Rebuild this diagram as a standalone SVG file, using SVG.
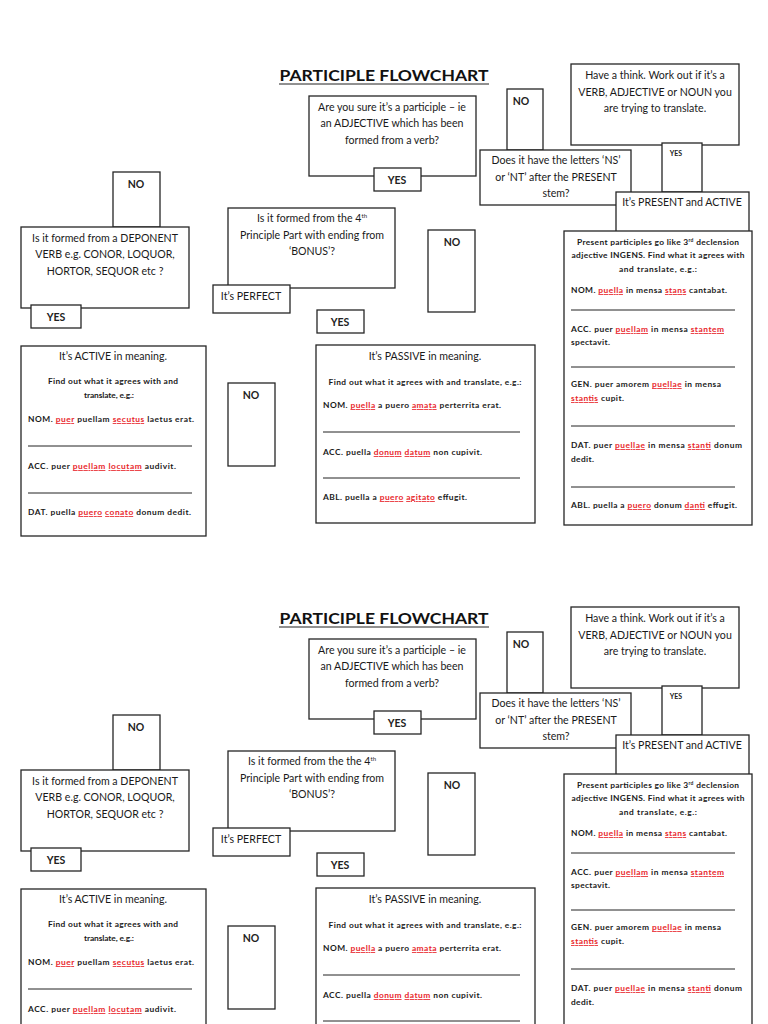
<svg xmlns="http://www.w3.org/2000/svg" width="768" height="1024" viewBox="0 0 768 1024">
<style>
.bx{fill:#fff;stroke:#262626;stroke-width:1.3}
text{font-family:Lato,"Liberation Sans",sans-serif;fill:#1a1a1a}
.m{font-size:10.6px;text-anchor:middle}
.yn{font-size:10.5px;text-anchor:middle;font-weight:bold;fill:#222}
.ys{font-size:7px;text-anchor:middle;font-weight:bold;fill:#222}
.s{font-size:8.4px;font-weight:bold}
.c{text-anchor:middle}
.r{fill:#e8262b;text-decoration:underline}
.ln{stroke:#222;stroke-width:1}
.ttl{font-size:16px;font-weight:bold;text-anchor:middle;fill:#111}
</style>
<rect width="768" height="1024" fill="#fff"/>
<g id="connectors"></g>

<g id="chart-1">
  <g id="title-1">
    <text class="ttl" x="384" y="81" textLength="209" lengthAdjust="spacingAndGlyphs">PARTICIPLE FLOWCHART</text>
    <line class="ln" x1="279" y1="84" x2="489" y2="84" stroke-width="1.3"/>
  </g>
  <g id="sure-1">
    <rect class="bx" x="309" y="96" width="167" height="80"/>
    <text class="m" x="392" y="111">Are you sure it’s a participle – ie</text>
    <text class="m" x="392" y="127">an ADJECTIVE which has been</text>
    <text class="m" x="392" y="144">formed from a verb?</text>
  </g>
  <g id="yes-sure-1">
    <rect class="bx" x="374" y="168" width="47" height="23"/>
    <text class="yn" x="397" y="184">YES</text>
  </g>
  <g id="no-top-1">
    <rect class="bx" x="507" y="89" width="36" height="61"/>
    <text class="yn" x="521" y="105">NO</text>
  </g>
  <g id="does-1">
    <rect class="bx" x="480" y="150" width="151" height="55"/>
    <text class="m" x="556" y="164">Does it have the letters ‘NS’</text>
    <text class="m" x="556" y="181">or ‘NT’ after the PRESENT</text>
    <text class="m" x="556" y="197">stem?</text>
  </g>
  <g id="think-1">
    <rect class="bx" x="571" y="64" width="168" height="81"/>
    <text class="m" x="655" y="79">Have a think. Work out if it’s a</text>
    <text class="m" x="655" y="96">VERB, ADJECTIVE or NOUN you</text>
    <text class="m" x="655" y="112">are trying to translate.</text>
  </g>
  <g id="yes-small-1">
    <rect class="bx" x="662" y="143" width="40" height="49"/>
    <text class="ys" x="676" y="156">YES</text>
  </g>
  <g id="present-1">
    <rect class="bx" x="616" y="192" width="133" height="40"/>
    <text class="m" x="682" y="206">It’s PRESENT and ACTIVE</text>
  </g>
  <g id="pp-1">
    <rect class="bx" x="564" y="231" width="188" height="294"/>
    <text class="s c" x="658" y="245" textLength="162">Present participles go like 3<tspan dy="-3" font-size="5">rd</tspan><tspan dy="3"> declension</tspan></text>
    <text class="s c" x="658" y="258" textLength="173">adjective INGENS. Find what it agrees with</text>
    <text class="s c" x="658" y="272" textLength="78">and translate, e.g.:</text>
    <text class="s" x="571" y="293" textLength="156">NOM. <tspan class="r">puella</tspan> in mensa <tspan class="r">stans</tspan> cantabat.</text>
    <line class="ln" x1="571" y1="310" x2="735" y2="310"/>
    <text class="s" x="571" y="332" textLength="153">ACC. puer <tspan class="r">puellam</tspan> in mensa <tspan class="r">stantem</tspan></text>
    <text class="s" x="571" y="345" textLength="39">spectavit.</text>
    <line class="ln" x1="571" y1="367" x2="735" y2="367"/>
    <text class="s" x="571" y="387" textLength="150">GEN. puer amorem <tspan class="r">puellae</tspan> in mensa</text>
    <text class="s" x="571" y="401" textLength="53"><tspan class="r">stantis</tspan> cupit.</text>
    <line class="ln" x1="571" y1="426" x2="735" y2="426"/>
    <text class="s" x="571" y="448" textLength="171">DAT. puer <tspan class="r">puellae</tspan> in mensa <tspan class="r">stanti</tspan> donum</text>
    <text class="s" x="571" y="462" textLength="23">dedit.</text>
    <line class="ln" x1="571" y1="487" x2="735" y2="487"/>
    <text class="s" x="571" y="508" textLength="166">ABL. puella a <tspan class="r">puero</tspan> donum <tspan class="r">danti</tspan> effugit.</text>
  </g>
  <g id="no-left-1">
    <rect class="bx" x="113" y="172" width="47" height="55"/>
    <text class="yn" x="136" y="188">NO</text>
  </g>
  <g id="deponent-1">
    <rect class="bx" x="21" y="227" width="168" height="81"/>
    <text class="m" x="105" y="242">Is it formed from a DEPONENT</text>
    <text class="m" x="105" y="258">VERB e.g.  CONOR, LOQUOR,</text>
    <text class="m" x="105" y="275">HORTOR, SEQUOR etc ?</text>
  </g>
  <g id="yes-left-1">
    <rect class="bx" x="31" y="305" width="50" height="23"/>
    <text class="yn" x="56" y="321">YES</text>
  </g>
  <g id="fourth-1">
    <rect class="bx" x="228" y="208" width="167" height="80"/>
    <text class="m" x="312" y="222">Is it formed from the 4<tspan dy="-4" font-size="6">th</tspan></text>
    <text class="m" x="312" y="239">Principle Part with ending from</text>
    <text class="m" x="312" y="255">‘BONUS’?</text>
  </g>
  <g id="perfect-1">
    <rect class="bx" x="213" y="285" width="77" height="28"/>
    <text class="m" x="251" y="300">It’s PERFECT</text>
  </g>
  <g id="yes-mid-1">
    <rect class="bx" x="317" y="310" width="47" height="23"/>
    <text class="yn" x="340" y="326">YES</text>
  </g>
  <g id="no-mid-1">
    <rect class="bx" x="428" y="230" width="47" height="82"/>
    <text class="yn" x="452" y="246">NO</text>
  </g>
  <g id="active-1">
    <rect class="bx" x="21" y="346" width="185" height="190"/>
    <text class="m" x="113" y="360">It’s ACTIVE in meaning.</text>
    <text class="s c" x="113" y="384" textLength="130">Find out what it agrees with and</text>
    <text class="s c" x="109" y="398" textLength="50">translate, e.g.:</text>
    <text class="s" x="28" y="422" textLength="166">NOM.  <tspan class="r">puer</tspan> puellam <tspan class="r">secutus</tspan> laetus erat.</text>
    <line class="ln" x1="28" y1="446" x2="192" y2="446"/>
    <text class="s" x="28" y="469" textLength="148">ACC.  puer <tspan class="r">puellam</tspan> <tspan class="r">locutam</tspan> audivit.</text>
    <line class="ln" x1="28" y1="493" x2="192" y2="493"/>
    <text class="s" x="28" y="515" textLength="163">DAT. puella <tspan class="r">puero</tspan> <tspan class="r">conato</tspan> donum dedit.</text>
  </g>
  <g id="no-low-1">
    <rect class="bx" x="228" y="383" width="47" height="83"/>
    <text class="yn" x="251" y="399">NO</text>
  </g>
  <g id="passive-1">
    <rect class="bx" x="316" y="345" width="219" height="178"/>
    <text class="m" x="425" y="360">It’s PASSIVE in meaning.</text>
    <text class="s c" x="425" y="385" textLength="193">Find out what it agrees with and translate, e.g.:</text>
    <text class="s" x="323" y="408" textLength="178">NOM. <tspan class="r">puella</tspan> a puero <tspan class="r">amata</tspan> perterrita erat.</text>
    <line class="ln" x1="323" y1="432" x2="520" y2="432"/>
    <text class="s" x="323" y="455" textLength="159">ACC. puella <tspan class="r">donum</tspan> <tspan class="r">datum</tspan> non cupivit.</text>
    <line class="ln" x1="323" y1="478" x2="520" y2="478"/>
    <text class="s" x="323" y="500" textLength="144">ABL. puella a <tspan class="r">puero</tspan> <tspan class="r">agitato</tspan> effugit.</text>
  </g>
</g>

<g id="chart-2" transform="translate(0,543)">
  <g id="title-2">
    <text class="ttl" x="384" y="81" textLength="209" lengthAdjust="spacingAndGlyphs">PARTICIPLE FLOWCHART</text>
    <line class="ln" x1="279" y1="84" x2="489" y2="84" stroke-width="1.3"/>
  </g>
  <g id="sure-2">
    <rect class="bx" x="309" y="96" width="167" height="80"/>
    <text class="m" x="392" y="111">Are you sure it’s a participle – ie</text>
    <text class="m" x="392" y="127">an ADJECTIVE which has been</text>
    <text class="m" x="392" y="144">formed from a verb?</text>
  </g>
  <g id="yes-sure-2">
    <rect class="bx" x="374" y="168" width="47" height="23"/>
    <text class="yn" x="397" y="184">YES</text>
  </g>
  <g id="no-top-2">
    <rect class="bx" x="507" y="89" width="36" height="61"/>
    <text class="yn" x="521" y="105">NO</text>
  </g>
  <g id="does-2">
    <rect class="bx" x="480" y="150" width="151" height="55"/>
    <text class="m" x="556" y="164">Does it have the letters ‘NS’</text>
    <text class="m" x="556" y="181">or ‘NT’ after the PRESENT</text>
    <text class="m" x="556" y="197">stem?</text>
  </g>
  <g id="think-2">
    <rect class="bx" x="571" y="64" width="168" height="81"/>
    <text class="m" x="655" y="79">Have a think. Work out if it’s a</text>
    <text class="m" x="655" y="96">VERB, ADJECTIVE or NOUN you</text>
    <text class="m" x="655" y="112">are trying to translate.</text>
  </g>
  <g id="yes-small-2">
    <rect class="bx" x="662" y="143" width="40" height="49"/>
    <text class="ys" x="676" y="156">YES</text>
  </g>
  <g id="present-2">
    <rect class="bx" x="616" y="192" width="133" height="40"/>
    <text class="m" x="682" y="206">It’s PRESENT and ACTIVE</text>
  </g>
  <g id="pp-2">
    <rect class="bx" x="564" y="231" width="188" height="294"/>
    <text class="s c" x="658" y="245" textLength="162">Present participles go like 3<tspan dy="-3" font-size="5">rd</tspan><tspan dy="3"> declension</tspan></text>
    <text class="s c" x="658" y="258" textLength="173">adjective INGENS. Find what it agrees with</text>
    <text class="s c" x="658" y="272" textLength="78">and translate, e.g.:</text>
    <text class="s" x="571" y="293" textLength="156">NOM. <tspan class="r">puella</tspan> in mensa <tspan class="r">stans</tspan> cantabat.</text>
    <line class="ln" x1="571" y1="310" x2="735" y2="310"/>
    <text class="s" x="571" y="332" textLength="153">ACC. puer <tspan class="r">puellam</tspan> in mensa <tspan class="r">stantem</tspan></text>
    <text class="s" x="571" y="345" textLength="39">spectavit.</text>
    <line class="ln" x1="571" y1="367" x2="735" y2="367"/>
    <text class="s" x="571" y="387" textLength="150">GEN. puer amorem <tspan class="r">puellae</tspan> in mensa</text>
    <text class="s" x="571" y="401" textLength="53"><tspan class="r">stantis</tspan> cupit.</text>
    <line class="ln" x1="571" y1="426" x2="735" y2="426"/>
    <text class="s" x="571" y="448" textLength="171">DAT. puer <tspan class="r">puellae</tspan> in mensa <tspan class="r">stanti</tspan> donum</text>
    <text class="s" x="571" y="462" textLength="23">dedit.</text>
  </g>
  <g id="no-left-2">
    <rect class="bx" x="113" y="172" width="47" height="55"/>
    <text class="yn" x="136" y="188">NO</text>
  </g>
  <g id="deponent-2">
    <rect class="bx" x="21" y="227" width="168" height="81"/>
    <text class="m" x="105" y="242">Is it formed from a DEPONENT</text>
    <text class="m" x="105" y="258">VERB e.g.  CONOR, LOQUOR,</text>
    <text class="m" x="105" y="275">HORTOR, SEQUOR etc ?</text>
  </g>
  <g id="yes-left-2">
    <rect class="bx" x="31" y="305" width="50" height="23"/>
    <text class="yn" x="56" y="321">YES</text>
  </g>
  <g id="fourth-2">
    <rect class="bx" x="228" y="208" width="167" height="80"/>
    <text class="m" x="312" y="222">Is it formed from the the 4<tspan dy="-4" font-size="6">th</tspan></text>
    <text class="m" x="312" y="239">Principle Part with ending from</text>
    <text class="m" x="312" y="255">‘BONUS’?</text>
  </g>
  <g id="perfect-2">
    <rect class="bx" x="213" y="285" width="77" height="28"/>
    <text class="m" x="251" y="300">It’s PERFECT</text>
  </g>
  <g id="yes-mid-2">
    <rect class="bx" x="317" y="310" width="47" height="23"/>
    <text class="yn" x="340" y="326">YES</text>
  </g>
  <g id="no-mid-2">
    <rect class="bx" x="428" y="230" width="47" height="82"/>
    <text class="yn" x="452" y="246">NO</text>
  </g>
  <g id="active-2">
    <rect class="bx" x="21" y="346" width="185" height="190"/>
    <text class="m" x="113" y="360">It’s ACTIVE in meaning.</text>
    <text class="s c" x="113" y="384" textLength="130">Find out what it agrees with and</text>
    <text class="s c" x="109" y="398" textLength="50">translate, e.g.:</text>
    <text class="s" x="28" y="422" textLength="166">NOM.  <tspan class="r">puer</tspan> puellam <tspan class="r">secutus</tspan> laetus erat.</text>
    <line class="ln" x1="28" y1="446" x2="192" y2="446"/>
    <text class="s" x="28" y="469" textLength="148">ACC.  puer <tspan class="r">puellam</tspan> <tspan class="r">locutam</tspan> audivit.</text>
  </g>
  <g id="no-low-2">
    <rect class="bx" x="228" y="383" width="47" height="83"/>
    <text class="yn" x="251" y="399">NO</text>
  </g>
  <g id="passive-2">
    <rect class="bx" x="316" y="345" width="219" height="178"/>
    <text class="m" x="425" y="360">It’s PASSIVE in meaning.</text>
    <text class="s c" x="425" y="385" textLength="193">Find out what it agrees with and translate, e.g.:</text>
    <text class="s" x="323" y="408" textLength="178">NOM. <tspan class="r">puella</tspan> a puero <tspan class="r">amata</tspan> perterrita erat.</text>
    <line class="ln" x1="323" y1="432" x2="520" y2="432"/>
    <text class="s" x="323" y="455" textLength="159">ACC. puella <tspan class="r">donum</tspan> <tspan class="r">datum</tspan> non cupivit.</text>
    <line class="ln" x1="323" y1="478" x2="520" y2="478"/>
  </g>
</g>
</svg>
